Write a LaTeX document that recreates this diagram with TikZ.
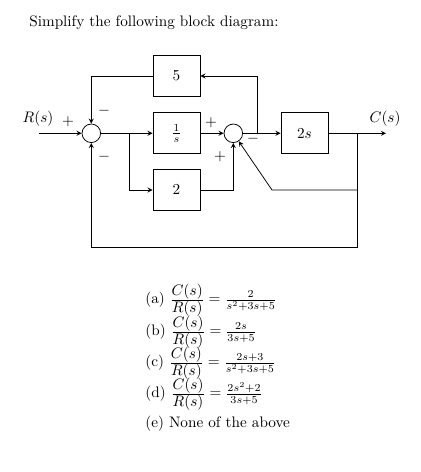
\documentclass[tikz,border=0pt]{standalone}
\usepackage{tikz}
\usepackage{amsmath}
\usepackage{amssymb}
\usetikzlibrary{shapes, arrows, calc, positioning}
\newcommand{\tfr}[2]{\frac{\textstyle #1}{\textstyle #2}}

\begin{document}
\begin{tikzpicture}[x=0.657pt, y=-0.657pt, line width=0.5pt, >=stealth,
    blk/.style = {draw, rectangle, minimum width=30.9pt, minimum height=27pt, inner sep=0pt},
    sumj/.style = {draw, circle, minimum size=12.2pt, inner sep=0pt},
    sgn/.style = {anchor=center, inner sep=0pt}]
      \useasboundingbox (0,0) rectangle (420,472);
      \node[anchor=base west, inner sep=0pt] (title) at (29,27) {Simplify the following block diagram:};
      \begin{scope}
        % junctions and blocks
        \node[sumj] (S1) at (91.3,133.3) {};
        \node[sumj] (S2) at (233.3,133.3) {};
        \node[blk] (B5) at (176.5,76) {$5$};
        \node[blk] (Bi) at (176.5,133.3) {$\frac{1}{s}$};
        \node[blk] (B2) at (176.5,190) {$2$};
        \node[blk] (Bs) at (304.5,133.3) {$2s$};
        \coordinate (in) at (39,133.3);
        \coordinate (out) at (386,133.3);
        \coordinate (P1) at (129,133.3);
        \coordinate (P2) at (257,133.3);
        \coordinate (P3) at (357,133.3);
        \coordinate (P4) at (357,190);
        \coordinate (P5) at (357,247.3);
        \coordinate (K) at (272,190);
        \node[anchor=center] (R) at (38,119) {$R(s)$};
        \node[anchor=center] (C) at (385,119) {$C(s)$};
        \node[sgn] (s1) at (68,122) {$+$};
        \node[sgn] (s2) at (104,111) {$-$};
        \node[sgn] (s3) at (104,157) {$-$};
        \node[sgn] (s4) at (211,123) {$+$};
        \node[sgn] (s5) at (220,157) {$+$};
        \node[sgn] (s6) at (253,139) {$-$};
        \draw[->] (in) -- (S1);
        \draw[->] (S1) -- (Bi);
        \draw[->] (P1) |- (B2);
        \draw[->] (Bi) -- (S2);
        \draw[->] (B2) -| (S2);
        \draw[->] (S2) -- (Bs);
        \draw[->] (P2) |- (B5);
        \draw[->] (B5) -| (S1);
        \draw[->] (Bs) -- (out);
        \draw[->] (P3) -- (P5) -| (S1);
        \draw[->] (P4) -- (K) -- (S2);
      \end{scope}
      \begin{scope}[every node/.style = {anchor=west, inner sep=0pt}]
        \node (qa) at (145,300) {(a) $\tfr{C(s)}{R(s)}=\frac{2}{s^2+3s+5}$};
        \node (qb) at (145,332) {(b) $\tfr{C(s)}{R(s)}=\frac{2s}{3s+5}$};
        \node (qc) at (145,363) {(c) $\tfr{C(s)}{R(s)}=\frac{2s+3}{s^2+3s+5}$};
        \node (qd) at (145,394) {(d) $\tfr{C(s)}{R(s)}=\frac{2s^2+2}{3s+5}$};
        \node (qe) at (145,424) {(e) None of the above};
      \end{scope}
    \end{tikzpicture}
\end{document}
